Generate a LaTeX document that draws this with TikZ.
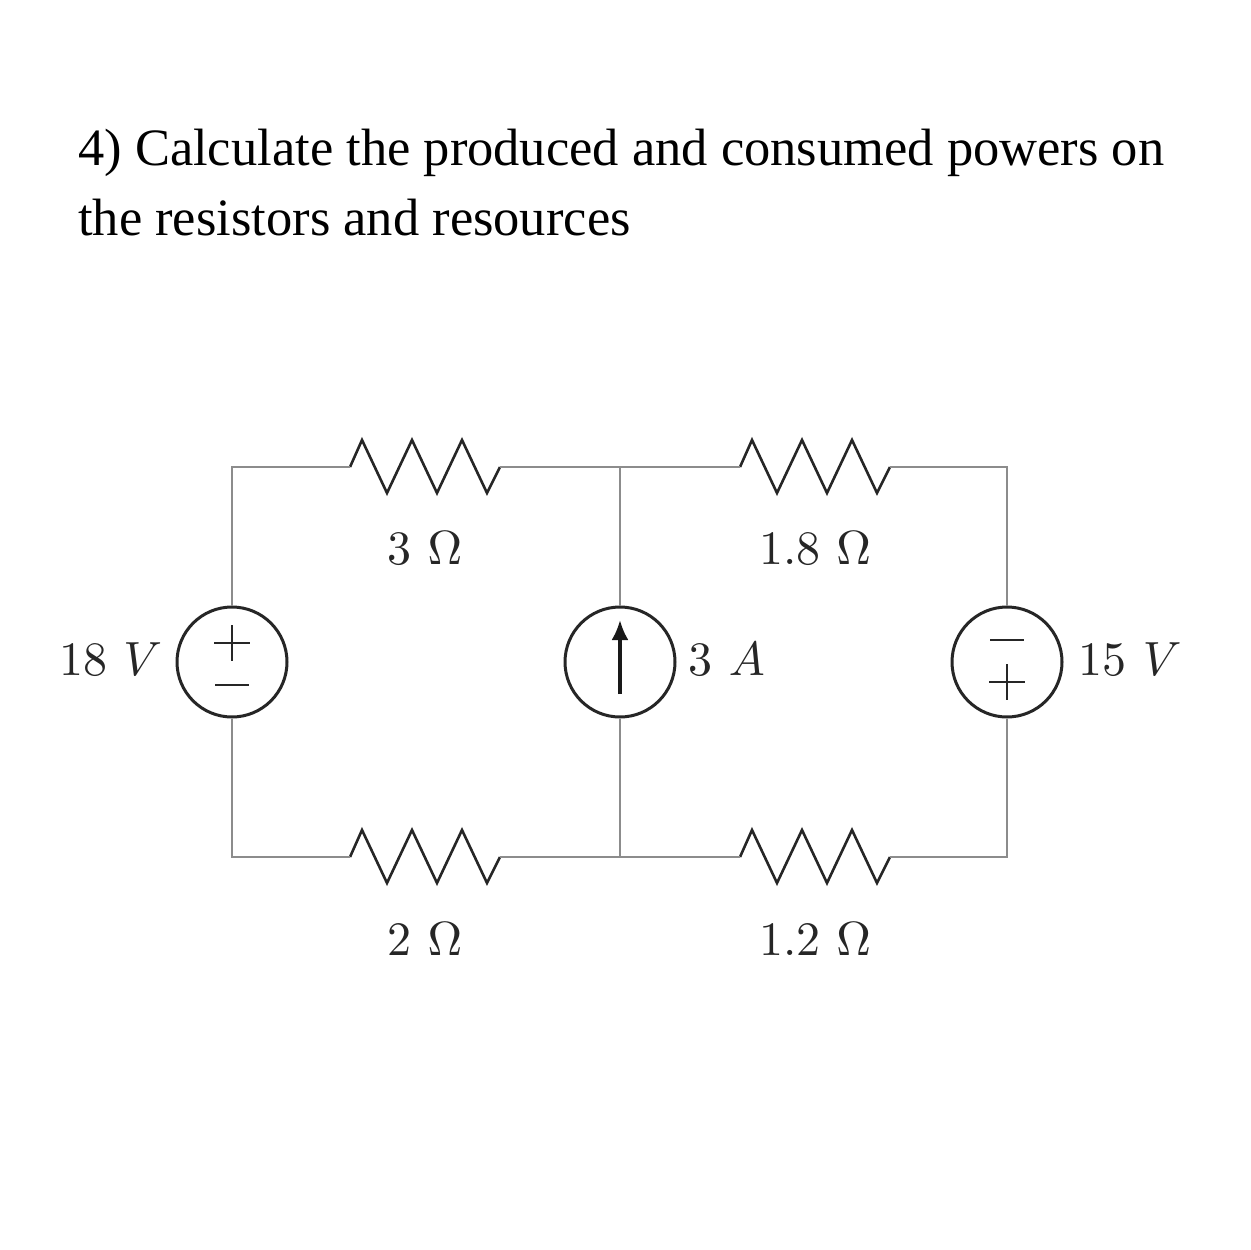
\documentclass[tikz,border=0pt]{standalone}
\usepackage{fontspec}
\usetikzlibrary{arrows.meta}
\newfontfamily\tnr{Liberation Serif}
\begin{document}
\begin{tikzpicture}[x=1pt,y=-1pt,
  wire/.style={draw=black!45,line width=2.2pt},
  src/.style={circle,draw=black!85,line width=3pt,minimum size=110pt,inner sep=0pt,fill=white},
  lbl/.style={font=\normalsize,scale=4.8,inner sep=0pt,text=black!85},
  res/.style={draw=black!85,line width=2.6pt,line join=miter}]
\useasboundingbox (0,0) rectangle (1250,1250);
\node[anchor=base west,font=\tnr\fontsize{52.5}{70}\selectfont,align=left,inner sep=0pt] (title) at (78,235) {4) Calculate the produced and consumed powers on\\the resistors and resources};
% corners
\coordinate (tl) at (232,467); \coordinate (tm) at (620,467); \coordinate (tr) at (1007,467);
\coordinate (bl) at (232,857); \coordinate (bm) at (620,857); \coordinate (br) at (1007,857);
\node[src] (s1) at (232,662) {};
\node[src] (s2) at (620,662) {};
\node[src] (s3) at (1007,662) {};
% resistor endpoints
\foreach \n/\x/\y in {ra/350/467,rb/740/467,rc/350/857,rd/740/857}{
  \coordinate (\n) at (\x,\y);
  \coordinate (\n e) at (\x+150,\y);
  \draw[res] (\x,\y) -- ++(12,-27) -- ++(25,53) -- ++(25,-53) -- ++(25,53) -- ++(25,-53) -- ++(25,53) -- ++(13,-26);
}
\draw[wire] (ra) -- (tl) -- (s1.north);
\draw[wire] (s1.south) -- (bl) -- (rc);
\draw[wire] (rae) -- (tm) -- (rb);
\draw[wire] (rce) -- (bm) -- (rd);
\draw[wire] (tm) -- (s2.north);
\draw[wire] (s2.south) -- (bm);
\draw[wire] (rbe) -- (tr) -- (s3.north);
\draw[wire] (s3.south) -- (br) -- (rde);
% symbols
\draw[black!85,line width=2.6pt] (232-18,643) -- ++(36,0) (232,625) -- ++(0,36) (232-17,685) -- ++(34,0);
\draw[black!85,line width=2.6pt] (1007-17,640) -- ++(34,0) (1007-18,682) -- ++(36,0) (1007,664) -- ++(0,36);
\draw[black!90,line width=3.2pt,-{Latex[length=20pt,width=17pt]}] (620,694) -- (620,620);
% labels
\node[lbl,anchor=east] (l18) at (163,660) {18 $V$};
\node[lbl,anchor=west] (l3a) at (688,660) {3 $A$};
\node[lbl,anchor=west] (l15) at (1078,660) {15 $V$};
\node[lbl] (r3) at (425,549) {3 $\Omega$};
\node[lbl] (r18) at (815,549) {1.8 $\Omega$};
\node[lbl] (r2) at (425,939) {2 $\Omega$};
\node[lbl] (r12) at (815,939) {1.2 $\Omega$};
\end{tikzpicture}
\end{document}
